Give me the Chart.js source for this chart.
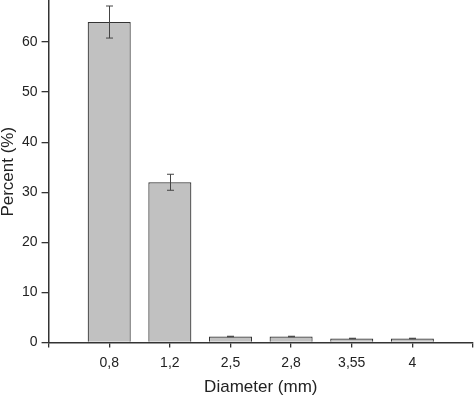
<!DOCTYPE html>
<html>
<head>
<meta charset="utf-8">
<script src="https://cdn.jsdelivr.net/npm/chart.js@4"></script>
<style>
  html, body { margin: 0; padding: 0; background: #fff; }
  #wrap { width: 474px; height: 397px; }
</style>
</head>
<body>
<div id="wrap"><canvas id="chart"></canvas></div>
<script>
// data
const categories = ['0,8', '1,2', '2,5', '2,8', '3,55', '4'];
const percents = [64, 32, 1.2, 1.2, 0.8, 0.8];
const errors = [3.2, 1.6, 0.05, 0.05, 0.05, 0.05];
const yTicks = [0, 10, 20, 30, 40, 50, 60];
const yMax = 68.2;

// empty slots at both ends so the axis has its end ticks
const labels = [''].concat(categories, ['']);
const values = [null].concat(percents, [null]);
const errs = [null].concat(errors, [null]);

const axisColor = '#333';
const font = 'Liberation Sans, Arial, sans-serif';

// simple error bars on top of the bars
const errorBars = {
  id: 'errorBars',
  afterDatasetsDraw(chart) {
    const meta = chart.getDatasetMeta(0);
    const y = chart.scales.y;
    const c = chart.ctx;
    c.save();
    c.strokeStyle = '#444';
    c.lineWidth = 1;
    meta.data.forEach((bar, i) => {
      if (values[i] == null || errs[i] == null) return;
      const x = Math.round(bar.x) + 0.5;
      const top = y.getPixelForValue(values[i] + errs[i]);
      const bot = y.getPixelForValue(values[i] - errs[i]);
      c.beginPath();
      c.moveTo(x, top); c.lineTo(x, bot);
      c.moveTo(x - 3.5, top); c.lineTo(x + 3.5, top);
      c.moveTo(x - 3.5, bot); c.lineTo(x + 3.5, bot);
      c.stroke();
    });
    c.restore();
  }
};

new Chart(document.getElementById('chart'), {
  type: 'bar',
  data: {
    labels: labels,
    datasets: [{
      data: values,
      backgroundColor: '#c1c1c1',
      borderColor: '#333',
      borderWidth: 1.2,
      barPercentage: 0.71,
      categoryPercentage: 1
    }]
  },
  options: {
    responsive: true,
    maintainAspectRatio: false,
    animation: false,
    layout: { padding: { top: 1, right: 1, left: 0, bottom: 0 } },
    plugins: {
      legend: { display: false },
      tooltip: { enabled: false }
    },
    scales: {
      x: {
        offset: false,
        // axis should run right to the edge
        afterFit(scale) { scale.paddingRight = 0; scale.paddingLeft = 0; },
        grid: { offset: false, drawOnChartArea: false, drawTicks: true, tickLength: 5, color: axisColor, lineWidth: 1.3 },
        border: { display: true, color: axisColor, width: 1.5 },
        ticks: { color: '#222', font: { family: font, size: 14 }, padding: 7, autoSkip: false, maxRotation: 0 },
        title: { display: true, text: 'Diameter (mm)', color: '#222', font: { family: font, size: 17, lineHeight: 1.1 }, padding: { top: 0, bottom: 0 } }
      },
      y: {
        min: 0,
        max: yMax,
        // only the round ticks get a label; the top one is there with no label
        afterBuildTicks(scale) {
          scale.ticks = yTicks.map(v => ({ value: v })).concat([{ value: yMax }]);
        },
        afterFit(scale) { scale.paddingTop = 0; },
        grid: { drawOnChartArea: false, drawTicks: true, tickLength: 7, color: axisColor, lineWidth: 1.3 },
        border: { display: true, color: axisColor, width: 1.5 },
        ticks: {
          color: '#222', font: { family: font, size: 14 }, padding: 4,
          callback: v => (yTicks.includes(v) ? String(v) : null)
        },
        title: { display: true, text: 'Percent (%)', color: '#222', font: { family: font, size: 17, lineHeight: 1.0 }, padding: { top: 0, bottom: 1 } }
      }
    }
  },
  plugins: [errorBars]
});
</script>
</body>
</html>
